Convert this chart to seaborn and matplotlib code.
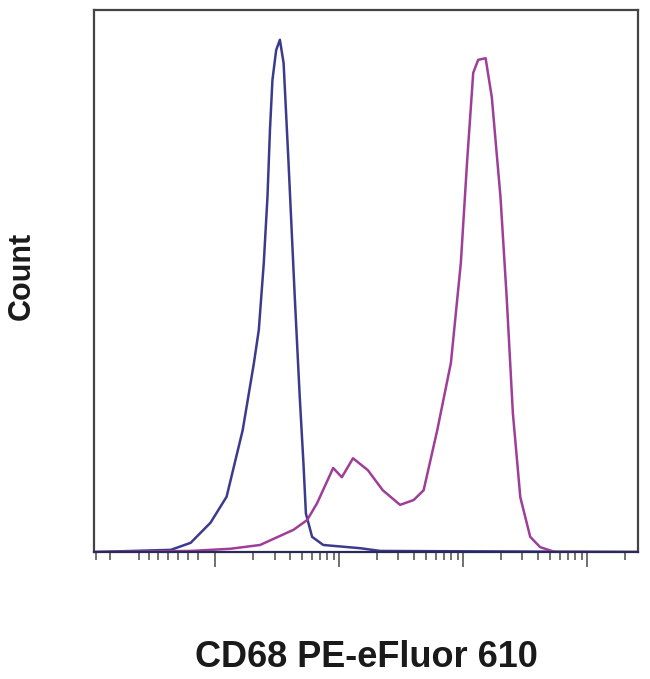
import numpy as np
import pandas as pd
import seaborn as sns
import matplotlib.pyplot as plt

# values: x in log10 units, y as % of max count
blue_x = [1.02, 1.64, 1.80, 1.96, 2.09, 2.22, 2.31, 2.35, 2.39, 2.42, 2.44, 2.46, 2.49,
          2.52, 2.55, 2.59, 2.64, 2.68, 2.71, 2.73, 2.78, 2.87, 3.17, 3.33, 5.41]
blue_y = [0.0, 0.4, 1.7, 5.4, 10.2, 22.5, 34.8, 41.0, 53.3, 65.6, 77.9, 87.1, 92.6,
          94.5, 90.2, 71.7, 47.1, 28.7, 16.4, 7.1, 2.8, 1.3, 0.7, 0.2, 0.0]

purple_x = [1.02, 1.80, 2.12, 2.36, 2.63, 2.74, 2.82, 2.95, 3.02, 3.11, 3.23, 3.35, 3.49,
            3.60, 3.68, 3.79, 3.90, 3.98, 4.03, 4.08, 4.12, 4.18, 4.23, 4.30, 4.35,
            4.40, 4.46, 4.54, 4.62, 4.74, 5.41]
purple_y = [0.0, 0.2, 0.6, 1.3, 4.1, 5.9, 9.0, 15.5, 13.8, 17.3, 15.1, 11.4, 8.7,
            9.6, 11.4, 22.5, 34.9, 53.3, 71.8, 88.4, 90.8, 91.1, 83.9, 65.5, 47.0,
            25.6, 10.1, 2.8, 0.9, 0.0, 0.0]

df = pd.concat([
    pd.DataFrame({'x': blue_x, 'y': blue_y, 'sample': 'isotype'}),
    pd.DataFrame({'x': purple_x, 'y': purple_y, 'sample': 'CD68'}),
])

sns.set_style('white')
plt.rcParams['font.family'] = ['Liberation Sans', 'DejaVu Sans']

fig = plt.figure(figsize=(6.5, 6.79), dpi=100)
ax = fig.add_axes([0.1446, 0.187, 0.837, 0.7983])

sns.lineplot(data=df, x='x', y='y', hue='sample', sort=False, estimator=None,
             palette={'isotype': '#3b3b8e', 'CD68': '#9e3e98'},
             linewidth=1.8, legend=False, ax=ax)

ax.set_xlim(1.02, 5.41)
ax.set_ylim(0, 100)

# decade ticks plus log minor ticks, biexponential-ish ticks near zero
major = [2, 3, 4, 5]
minor = [1.04, 1.15, 1.38, 1.46, 1.54, 1.62, 1.70, 1.78, 1.86]
for d in [2, 3, 4, 5]:
    for m in range(2, 10):
        v = d + np.log10(m)
        if v < 5.41:
            minor.append(v)
ax.set_xticks(major)
ax.set_xticks(minor, minor=True)
ax.set_xticklabels([])
ax.set_yticks([])
ax.tick_params(axis='x', which='major', direction='out', length=11, width=1.4,
               color='#707070', bottom=True)
ax.tick_params(axis='x', which='minor', direction='out', length=6, width=1.4,
               color='#707070', bottom=True)

for s in ax.spines.values():
    s.set_color('#444444')
    s.set_linewidth(1.6)
ax.spines['bottom'].set_color('#2a2a5a')

ax.set_xlabel('CD68 PE-eFluor 610', fontsize=26, fontweight='bold', color='#1a1a1a')
ax.set_ylabel('Count', fontsize=22, fontweight='bold', color='#1a1a1a')
ax.xaxis.set_label_coords(0.5, -0.162)
ax.yaxis.set_label_coords(-0.106, 0.51)

fig.savefig('out.png', dpi=100, facecolor='white')
